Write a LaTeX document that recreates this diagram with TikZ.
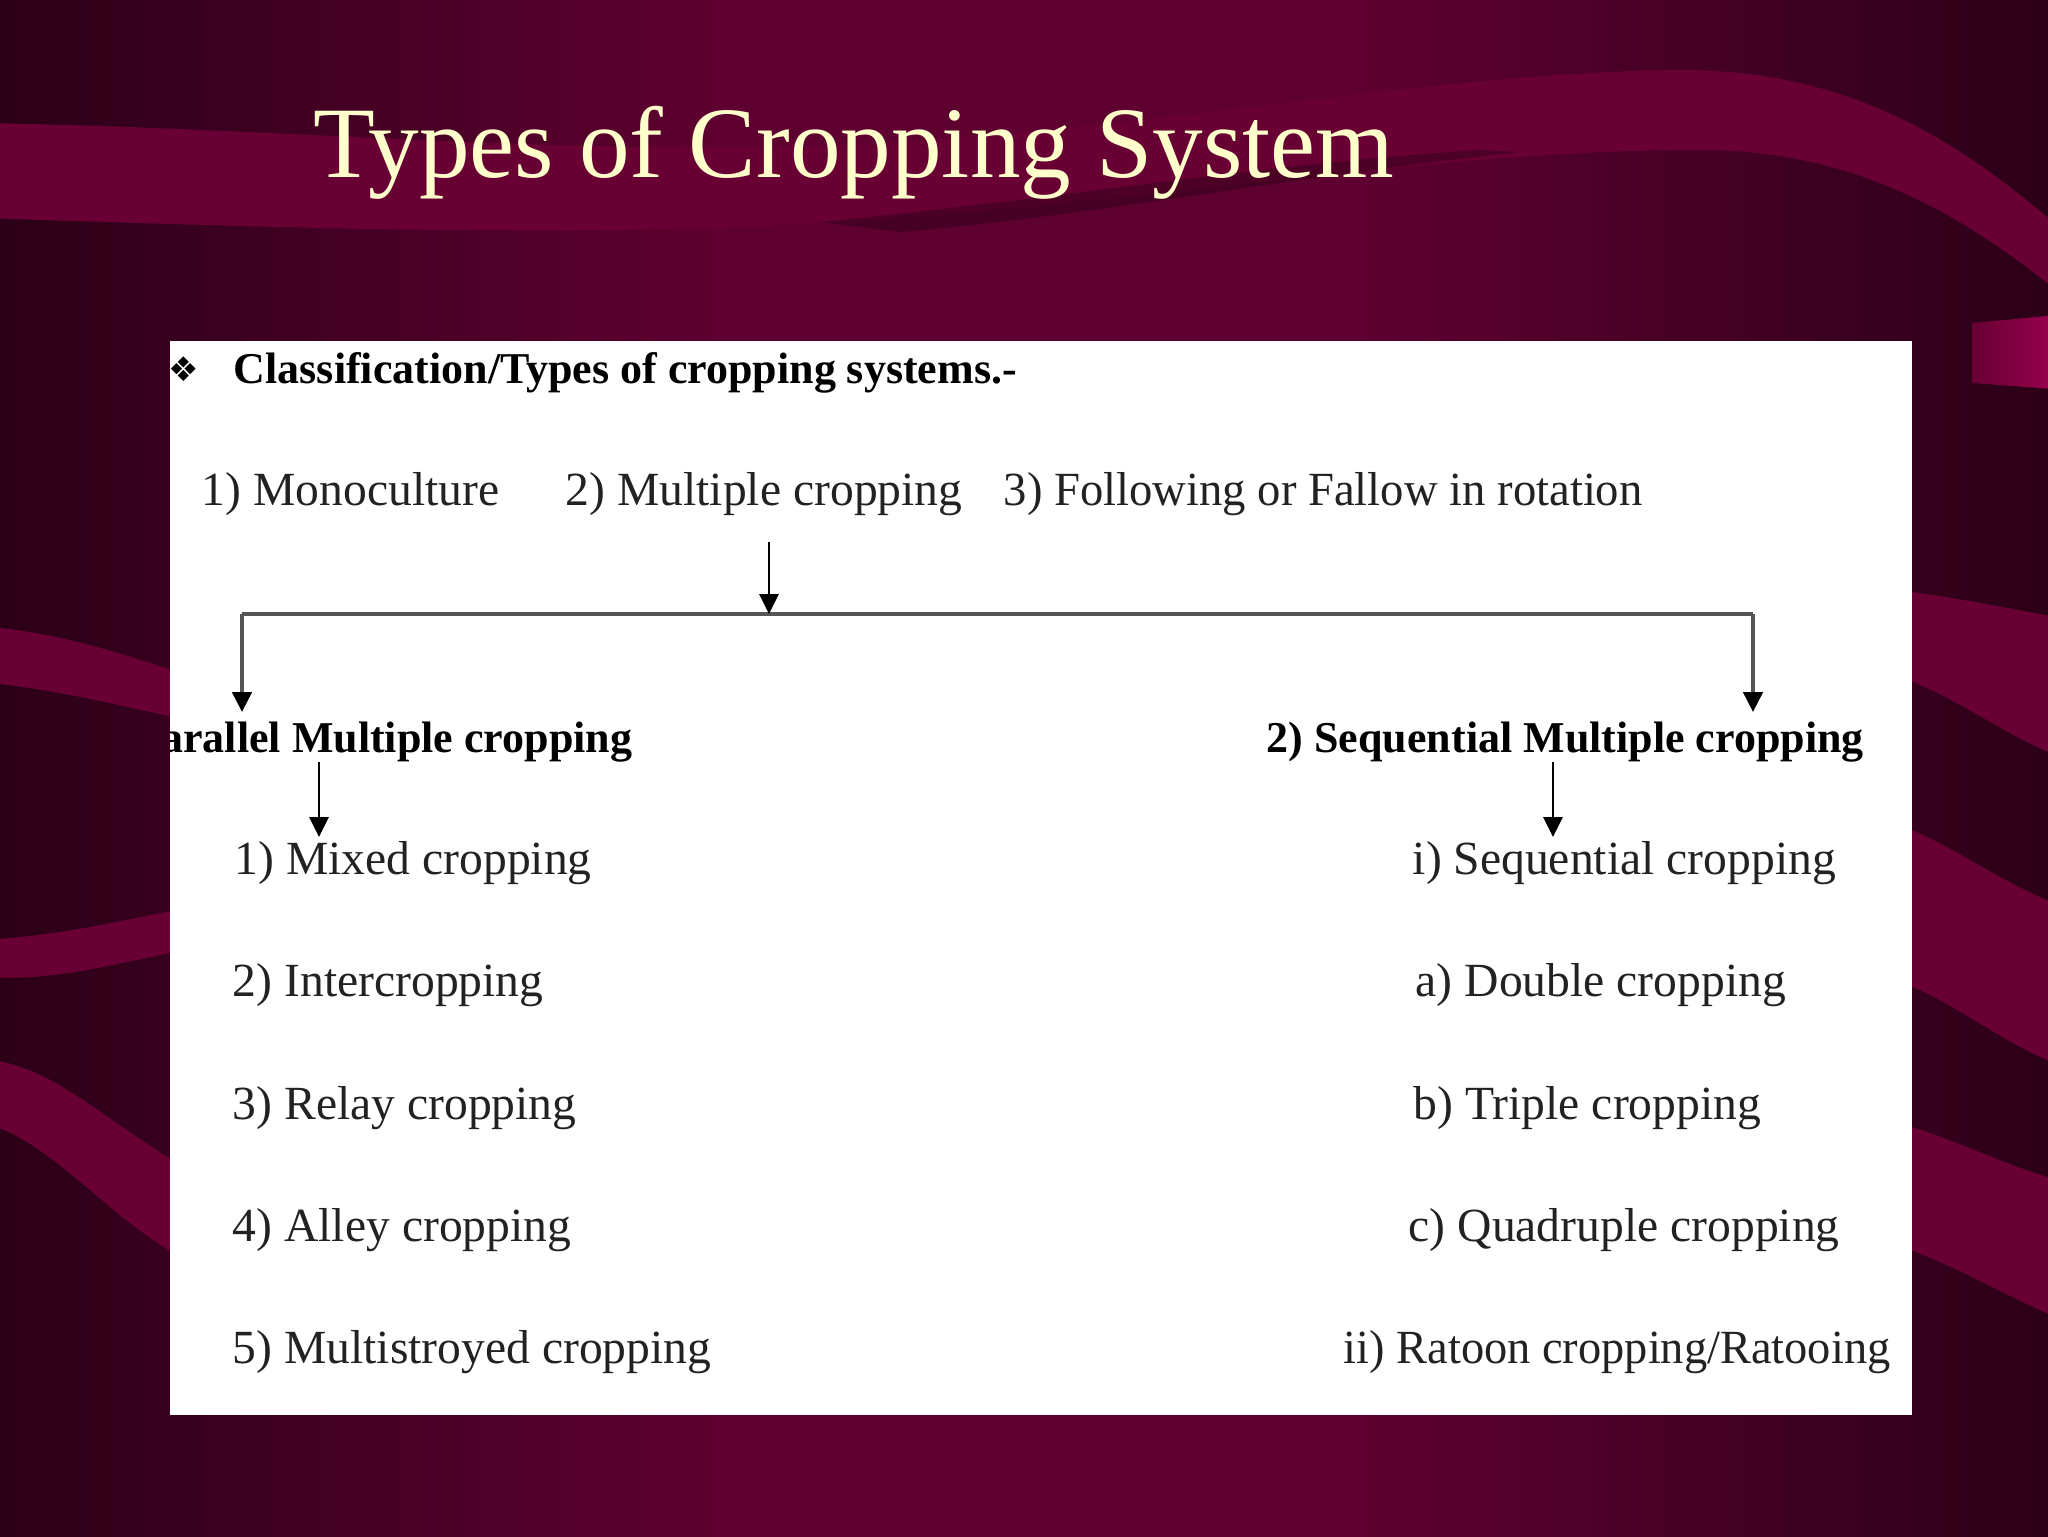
\documentclass[tikz,border=0pt]{standalone}
\usepackage{fontspec}
\setmainfont{Liberation Serif}
\newfontfamily\symfont{DejaVu Sans}
\usetikzlibrary{arrows.meta}
\definecolor{bgdark}{HTML}{2A0016}
\definecolor{bgmid}{HTML}{5E0030}
\definecolor{bandcol}{HTML}{680033}
\definecolor{pinkcol}{HTML}{A00052}
\definecolor{titlecol}{HTML}{FFFFCC}
\definecolor{itemcol}{HTML}{222222}
\definecolor{linecol}{HTML}{555555}
\tikzset{
  band/.style={fill=bandcol},
  itemtext/.style={anchor=base west, inner sep=0pt, text=itemcol, font=\fontsize{11.9}{14}\selectfont},
  headtext/.style={inner sep=0pt, text=black, font=\fontsize{11}{13}\selectfont\bfseries},
  arr/.style={draw=black, line width=0.6pt, -{Triangle[length=5pt,width=4.8pt,color=black]}},
  grayline/.style={draw=linecol, line width=1pt},
}
\begin{document}
\begin{tikzpicture}[x=0.25pt,y=-0.25pt]
\useasboundingbox (0,0) rectangle (2048,1536);
% background
\fill[bgdark] (-20,-20) rectangle (2068,1556);
\shade[left color=bgdark, right color=bgmid] (-20,-20) rectangle (720,1556);
\fill[bgmid] (719,-20) rectangle (1361,1556);
\shade[left color=bgmid, right color=bgdark] (1360,-20) rectangle (2068,1556);
% top ribbon
\fill[band] (-20,123) .. controls (300,128) and (600,160) .. (900,142)
  .. controls (1200,122) and (1450,72) .. (1680,70)
  .. controls (1850,70) and (1960,140) .. (2068,235)
  -- (2068,300) .. controls (1960,210) and (1850,150) .. (1700,150)
  .. controls (1450,150) and (1200,195) .. (900,218)
  .. controls (600,240) and (300,228) .. (-20,218) -- cycle;
\fill[bgdark, opacity=0.45] (820,222) .. controls (1050,200) and (1250,165) .. (1480,150)
  -- (1520,152) .. controls (1300,175) and (1100,215) .. (900,232) -- cycle;
% left ribbons
\fill[band] (-20,626) .. controls (70,633) and (140,660) .. (220,686)
  -- (220,726) .. controls (140,712) and (70,690) .. (-20,682) -- cycle;
\fill[band] (-20,940) .. controls (70,936) and (140,915) .. (220,902)
  -- (220,944) .. controls (140,955) and (60,985) .. (-20,976) -- cycle;
\fill[band] (-20,1059) .. controls (60,1062) and (120,1140) .. (220,1185)
  -- (220,1275) .. controls (120,1240) and (60,1140) .. (-20,1122) -- cycle;
% right ribbons
\fill[band] (1880,588) .. controls (1950,596) and (2000,607) .. (2068,619)
  -- (2068,760) .. controls (2000,735) and (1950,690) .. (1880,670) -- cycle;
\fill[band] (1880,818) .. controls (1950,840) and (2000,885) .. (2068,908)
  -- (2068,1068) .. controls (2000,1045) and (1950,995) .. (1880,975) -- cycle;
\fill[band] (1880,1118) .. controls (1950,1135) and (2000,1165) .. (2068,1183)
  -- (2068,1322) .. controls (2000,1295) and (1950,1260) .. (1880,1240) -- cycle;
% small pink tab
\shade[left color=bandcol, right color=pinkcol] (1972,323) -- (2068,314) -- (2068,390) -- (1972,383) -- cycle;
% title
\node[anchor=base west, inner sep=0pt, text=titlecol, font=\fontsize{25.3}{30}\selectfont] (title) at (313,177) {Types of Cropping System};
% white panel
\fill[white] (170,341) rectangle (1912,1415);
\node[inner sep=0pt, anchor=center, font=\symfont\fontsize{8.5}{10}\selectfont] (bullet) at (184,369) {❖};
\node[headtext, anchor=base west] (head) at (233,383) {Classification/Types of cropping systems.-};
% first row
\node[itemtext] (mono) at (201,505) {1) Monoculture};
\node[itemtext] (multi) at (565,505) {2) Multiple cropping};
\node[itemtext] (fallow) at (1003,505) {\scalebox{0.98}[1]{3) Following or Fallow in rotation}};
% branches
\coordinate (mstart) at (769,542);
\coordinate (hm) at (769,614);
\coordinate (hl) at (242,614);
\coordinate (hr) at (1753,614);
\coordinate (pl) at (242,712);
\coordinate (pr) at (1753,712);
\draw[grayline] (hl) -- (hr);
\draw[grayline] (hl) -- ([yshift=4pt]pl);
\draw[grayline] (hr) -- ([yshift=4pt]pr);
\draw[arr] (mstart) -- (hm);
\draw[arr, draw=linecol, line width=1pt] ([yshift=6pt]pl) -- (pl);
\draw[arr, draw=linecol, line width=1pt] ([yshift=6pt]pr) -- (pr);
% headings
\begin{scope}
\clip (170,341) rectangle (1912,1415);
\node[headtext, anchor=base east] (par) at (633,752) {arallel Multiple cropping};
\end{scope}
\node[headtext, anchor=base west] (seq) at (1266,752) {2) Sequential Multiple cropping};
\coordinate (la) at (319,762);
\coordinate (lb) at (319,837);
\coordinate (ra) at (1553,762);
\coordinate (rb) at (1553,837);
\draw[arr] (la) -- (lb);
\draw[arr] (ra) -- (rb);
% left list
\node[itemtext] (l1) at (234,874) {1) Mixed cropping};
\node[itemtext] (l2) at (232,996) {2) Intercropping};
\node[itemtext] (l3) at (232,1119) {3) Relay cropping};
\node[itemtext] (l4) at (232,1241) {4) Alley cropping};
\node[itemtext] (l5) at (232,1363) {5) Multistroyed cropping};
% right list
\node[itemtext] (r1) at (1412,874) {i) Sequential cropping};
\node[itemtext] (r2) at (1415,996) {a) Double cropping};
\node[itemtext] (r3) at (1413,1119) {b) Triple cropping};
\node[itemtext] (r4) at (1408,1241) {c) Quadruple cropping};
\node[itemtext] (r5) at (1343,1363) {\scalebox{0.975}[1]{ii) Ratoon cropping/Ratooing}};
\end{tikzpicture}
\end{document}
